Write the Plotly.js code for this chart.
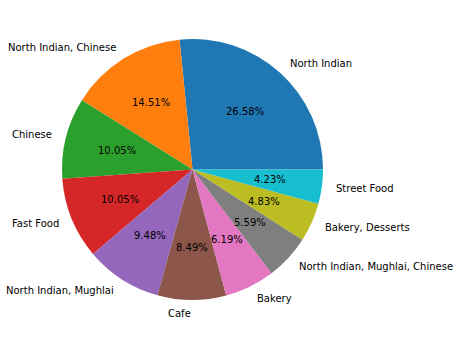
<!DOCTYPE html>
<html>
<head>
<meta charset="utf-8">
<script src="https://cdn.plot.ly/plotly-3.0.1.min.js"></script>
<style>html,body{margin:0;padding:0;background:#fff;}#chart{width:459px;height:340px;}</style>
</head>
<body>
<div id="chart"></div>
<script>
const categories = ["North Indian", "North Indian, Chinese", "Chinese", "Fast Food", "North Indian, Mughlai", "Cafe", "Bakery", "North Indian, Mughlai, Chinese", "Bakery, Desserts", "Street Food"];
const values = [26.58, 14.51, 10.05, 10.05, 9.48, 8.49, 6.19, 5.59, 4.83, 4.23];
const colors = ["#1f77b4", "#ff7f0e", "#2ca02c", "#d62728", "#9467bd", "#8c564b", "#e377c2", "#7f7f7f", "#bcbd22", "#17becf"];

const W = 459, H = 340;
const cx = 192.5, cy = 169.5, r = 130.5;
const font = {family: "DejaVu Sans", size: 10, color: "#000"};

const total = values.reduce((a, b) => a + b, 0);
const annotations = [];
let cum = 0;
values.forEach((v, i) => {
  const mid = (cum + v / 2) / total * 2 * Math.PI;
  cum += v;
  const c = Math.cos(mid), s = Math.sin(mid);
  const lx = cx + 1.1 * r * c, ly = cy - 1.1 * r * s;
  annotations.push({
    xref: "paper", yref: "paper", x: lx / W, y: 1 - ly / H,
    text: categories[i], showarrow: false, font: font,
    xanchor: c >= 0 ? "left" : "right", yanchor: "middle", borderpad: 0
  });
  const px = cx + 0.6 * r * c, py = cy - 0.6 * r * s;
  annotations.push({
    xref: "paper", yref: "paper", x: px / W, y: 1 - py / H,
    text: (v / total * 100).toFixed(2) + "%", showarrow: false, font: font,
    xanchor: "center", yanchor: "middle", borderpad: 0
  });
});

// Plotly places the first counterclockwise slice ending at the rotation angle;
// shift so that the first slice starts at 3 o'clock like matplotlib.
const rot = 90 - 360 * values[0] / total;

const trace = {
  type: "pie",
  labels: categories,
  values: values,
  sort: false,
  direction: "counterclockwise",
  rotation: rot,
  textinfo: "none",
  hoverinfo: "label+percent",
  marker: {colors: colors, line: {width: 0}},
  domain: {x: [(cx - r) / W, (cx + r) / W], y: [1 - (cy + r) / H, 1 - (cy - r) / H]},
  showlegend: false
};

const layout = {
  width: W, height: H,
  margin: {l: 0, r: 0, t: 0, b: 0},
  paper_bgcolor: "#fff",
  showlegend: false,
  annotations: annotations
};

Plotly.newPlot("chart", [trace], layout, {displayModeBar: false, staticPlot: true});
</script>
</body>
</html>
